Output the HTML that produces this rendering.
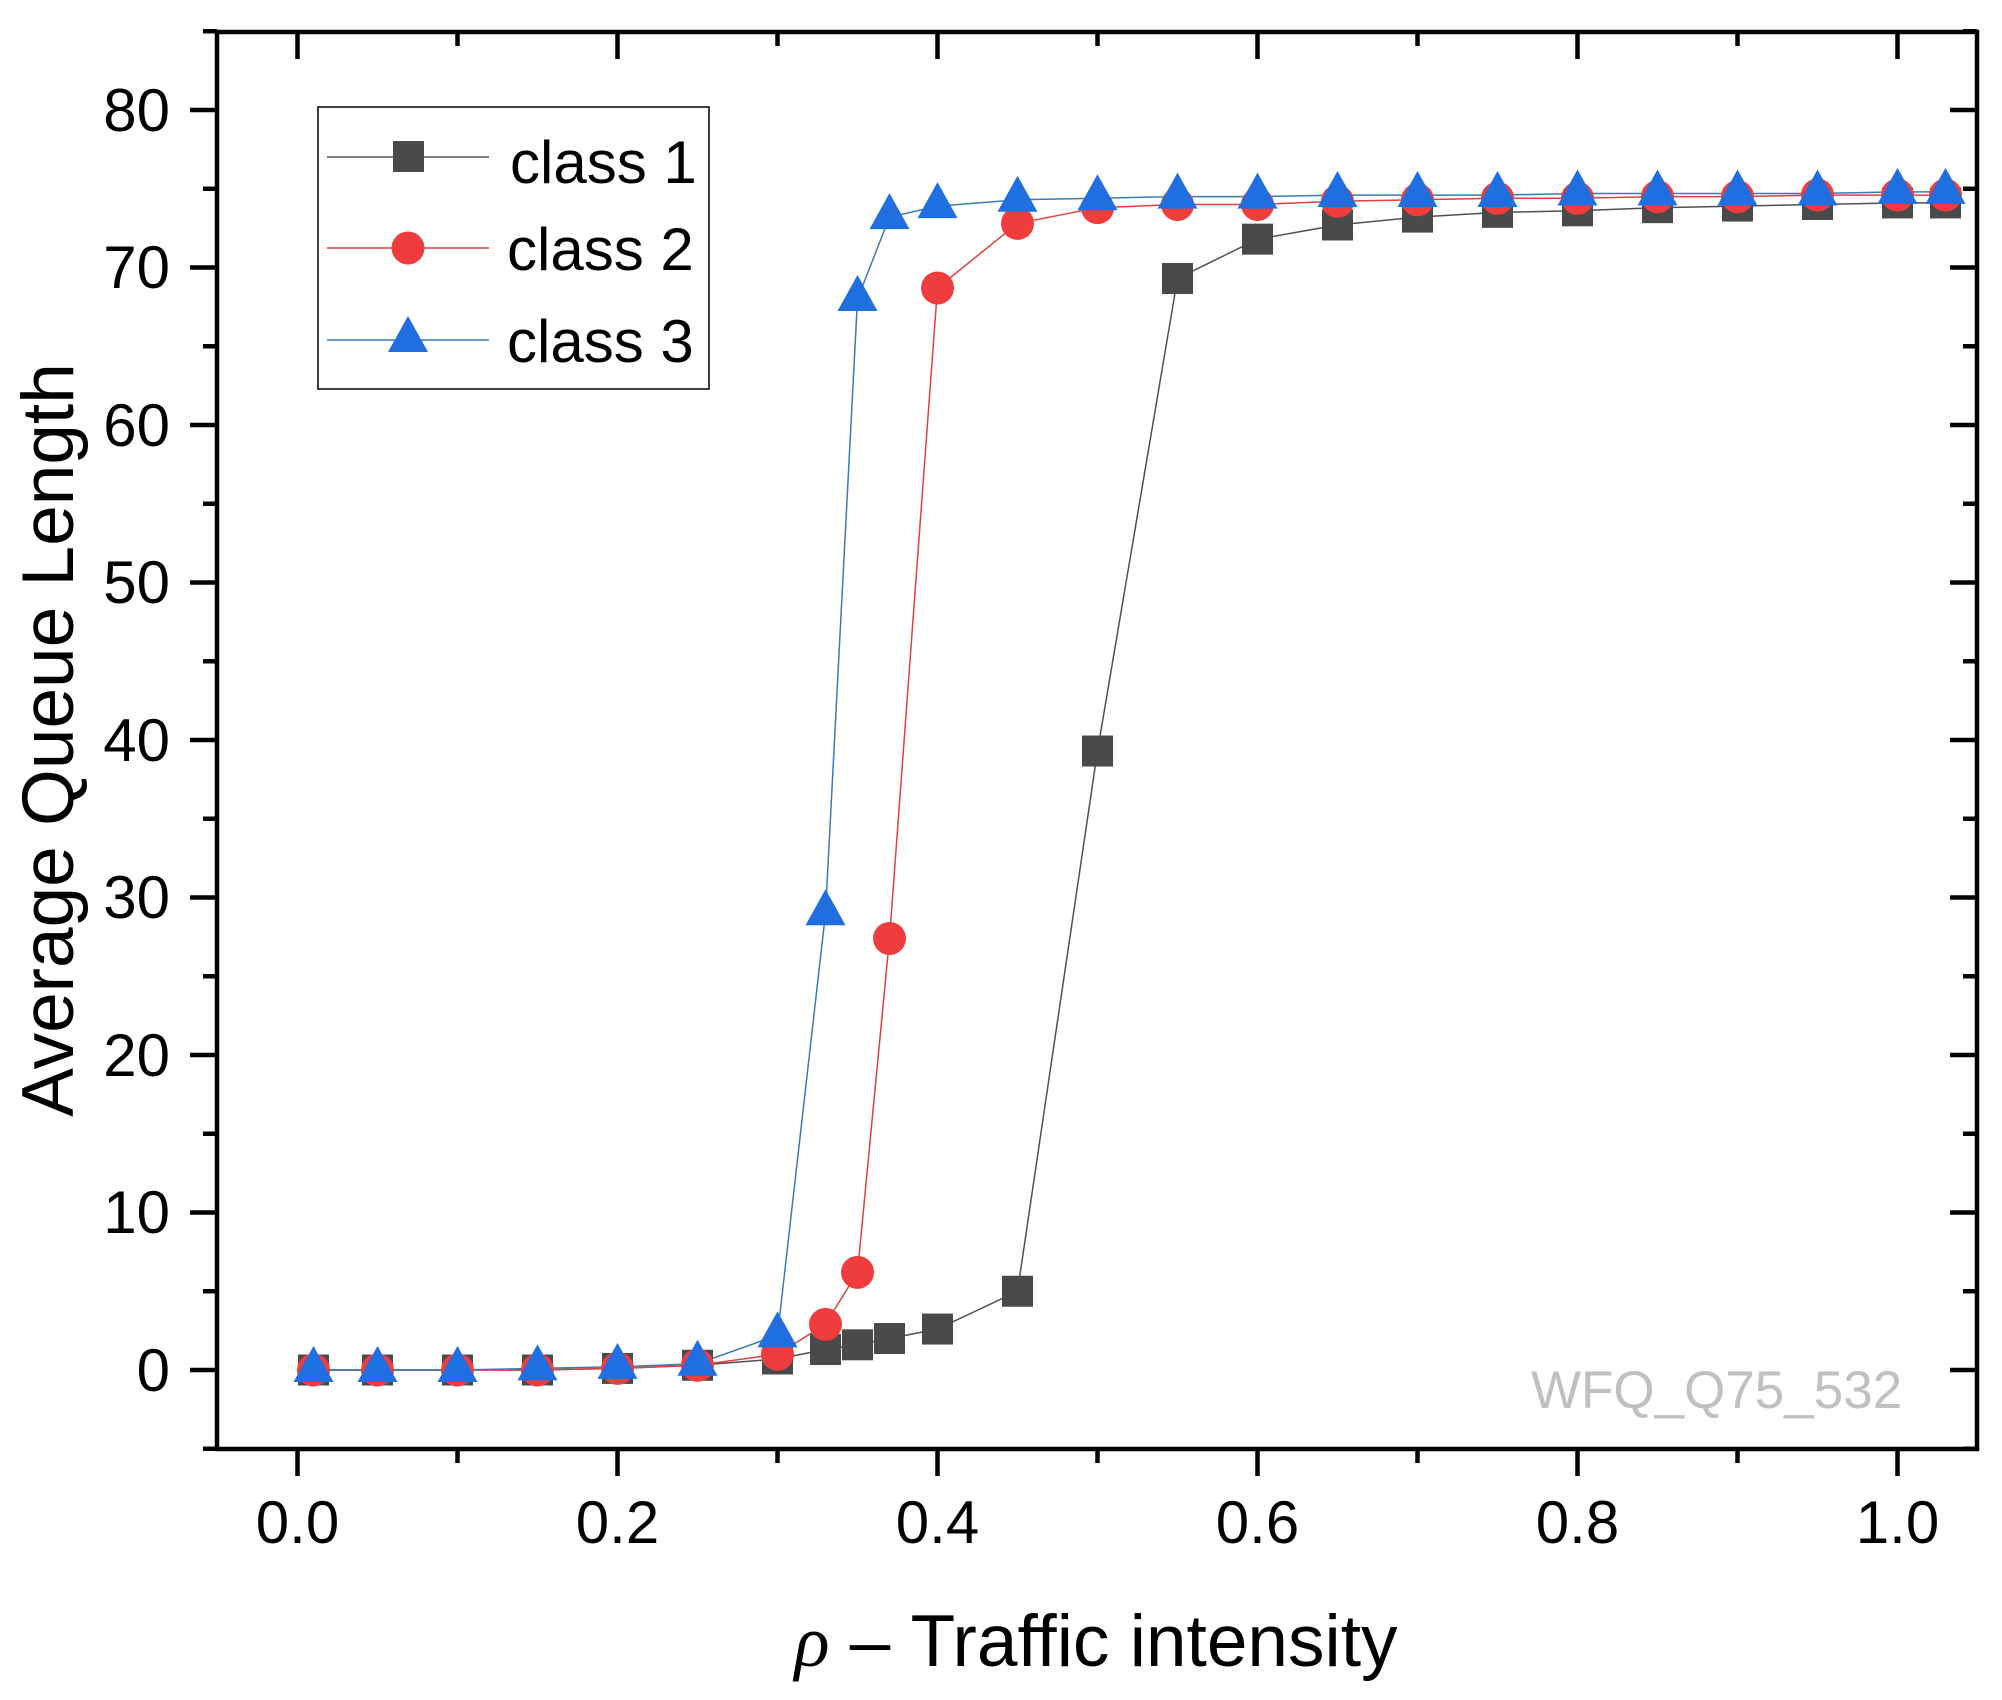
<!DOCTYPE html>
<html><head><meta charset="utf-8"><style>
html,body{margin:0;padding:0;background:#fff;}
svg{display:block;font-family:"Liberation Sans",Arial,sans-serif;}
</style></head><body>
<svg id="s" width="2002" height="1700" viewBox="0 0 2002 1700" xmlns="http://www.w3.org/2000/svg">
<rect width="2002" height="1700" fill="#fff"/>
<g id="ticks" stroke="#000" stroke-width="4.5"></g>
<rect x="217" y="32" width="1760" height="1417" fill="none" stroke="#000" stroke-width="4.5"/>
<g font-size="60" fill="#000" text-anchor="middle">
<text x="297.5" y="1543">0.0</text><text x="617.5" y="1543">0.2</text><text x="937.5" y="1543">0.4</text>
<text x="1257.5" y="1543">0.6</text><text x="1577.5" y="1543">0.8</text><text x="1897.5" y="1543">1.0</text>
</g>
<g font-size="60" fill="#000" text-anchor="end">
<text x="170" y="1391">0</text><text x="170" y="1233">10</text><text x="170" y="1076">20</text>
<text x="170" y="918">30</text><text x="170" y="761">40</text><text x="170" y="603">50</text>
<text x="170" y="446">60</text><text x="170" y="288">70</text><text x="170" y="131">80</text>
</g>
<text x="1096" y="1666" font-size="73" text-anchor="middle"><tspan font-family="'Liberation Serif',serif" font-style="italic">ρ</tspan> – Traffic intensity</text>
<text transform="translate(73,740) rotate(-90)" font-size="73" text-anchor="middle">Average Queue Length</text>
<text x="1531" y="1408" font-size="53" fill="#c0c0c0">WFQ_Q75_532</text>
<g id="data"></g>
<rect x="318" y="107" width="391" height="282" fill="#fff" stroke="#000" stroke-width="1.5"/>
<line x1="327" y1="157" x2="489" y2="157" stroke="#555" stroke-width="1.5"/>
<rect x="393" y="141" width="31" height="31" fill="#4a4a4a"/>
<line x1="327" y1="248" x2="489" y2="248" stroke="#e04040" stroke-width="1.5"/>
<circle cx="408" cy="248" r="16.5" fill="#f03c3c"/>
<line x1="327" y1="340" x2="489" y2="340" stroke="#3a7bb5" stroke-width="1.5"/>
<polygon points="408,316 428,352 388,352" fill="#1f6fe0"/>
<g font-size="60" fill="#000">
<text x="510" y="183">class 1</text><text x="507" y="270">class 2</text><text x="507" y="362">class 3</text>
</g>
</svg>
<script>
(function(){
function X(v){return 297.5+v*1600;}
function Y(v){return 1370-v*15.75;}
var t=document.getElementById('ticks'),h='';
for(var i=0;i<=10;i++){var v=i*0.1,x=X(v),L=(i%2==0)?27:14;
 h+='<line x1="'+x+'" y1="1449" x2="'+x+'" y2="'+(1449+L)+'"/>';
 h+='<line x1="'+x+'" y1="32" x2="'+x+'" y2="'+(32+L)+'"/>';}
for(var k=-5;k<=85;k+=5){var y=Y(k),L=(k%10==0)?27:14;
 h+='<line x1="217" y1="'+y+'" x2="'+(217-L)+'" y2="'+y+'"/>';
 h+='<line x1="1977" y1="'+y+'" x2="'+(1977-L)+'" y2="'+y+'"/>';}
t.innerHTML=h;
var xs=[0.01,0.05,0.1,0.15,0.2,0.25,0.3,0.33,0.35,0.37,0.4,0.45,0.5,0.55,0.6,0.65,0.7,0.75,0.8,0.85,0.9,0.95,1.0,1.03];
var c1=[0,0,0,0,0.1,0.3,0.7,1.3,1.6,2.0,2.6,5.0,39.3,69.3,71.8,72.7,73.2,73.5,73.6,73.8,73.9,74.0,74.1,74.1];
var c2=[0,0,0,0,0.1,0.3,1.0,2.9,6.2,27.4,68.7,72.8,73.8,74.0,74.0,74.2,74.3,74.4,74.4,74.5,74.5,74.6,74.6,74.6];
var c3=[0.0,0.0,0.0,0.1,0.2,0.4,2.2,29.0,68.0,73.2,73.9,74.3,74.4,74.5,74.5,74.6,74.6,74.6,74.7,74.7,74.7,74.7,74.8,74.8];
function pl(d,c){var p=[];for(var i=0;i<xs.length;i++)p.push(X(xs[i]).toFixed(1)+','+Y(d[i]).toFixed(1));
 return '<polyline points="'+p.join(' ')+'" fill="none" stroke="'+c+'" stroke-width="1.5"/>';}
var g='';
g+=pl(c1,'#505050')+pl(c2,'#e04040')+pl(c3,'#3a7bb5');
for(var i=0;i<xs.length;i++){var x=X(xs[i]),y=Y(c1[i]);g+='<rect x="'+(x-15.5)+'" y="'+(y-15.5)+'" width="31" height="31" fill="#4a4a4a"/>';}
for(var i=0;i<xs.length;i++){var x=X(xs[i]),y=Y(c2[i]);g+='<circle cx="'+x+'" cy="'+y+'" r="16.5" fill="#f03c3c"/>';}
for(var i=0;i<xs.length;i++){var x=X(xs[i]),y=Y(c3[i]);g+='<polygon points="'+x+','+(y-24)+' '+(x+20)+','+(y+12)+' '+(x-20)+','+(y+12)+'" fill="#1f6fe0"/>';}
document.getElementById('data').innerHTML=g;
})();
</script>
</body></html>
